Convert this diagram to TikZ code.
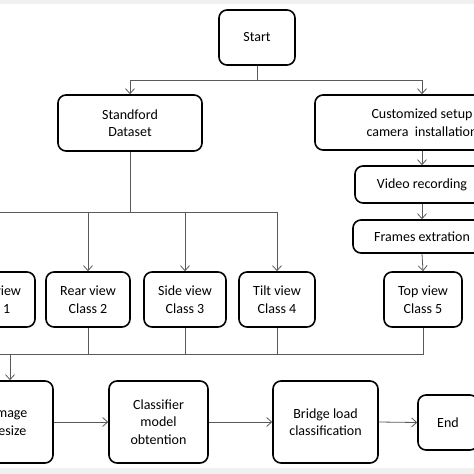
\documentclass[tikz,border=0pt]{standalone}
\usepackage{fontspec}
\setmainfont{Carlito}
\usetikzlibrary{arrows.meta,calc}
\definecolor{lnc}{HTML}{5A5A5A}
\tikzset{
  box/.style={draw=black, line width=1.6pt, rounded corners=8pt, align=center,
    font=\fontsize{14pt}{17.5pt}\selectfont, inner sep=2pt, minimum height=55pt},
  conn/.style={draw=lnc, line width=0.8pt},
  arr/.style={conn, -{Straight Barb[length=5pt,width=9pt,line width=0.8pt]}}
}
\begin{document}
\begin{tikzpicture}[x=1pt,y=-1pt]
\useasboundingbox (0,0) rectangle (474,474);
\clip (0,0) rectangle (474,474);
\fill[white] (0,0) rectangle (474,474);
\fill[gray!12] (0,0) rectangle (474,4);
\fill[gray!12] (0,468) rectangle (474,474);

\node[box, minimum width=76pt] (start) at (257,37.5) {Start};
\node[box, minimum width=144pt, minimum height=56pt] (sd) at (130,123) {Standford\\Dataset};
\node[box, minimum width=214pt] (cs) at (422,122.5) {Customized setup\\camera~ installation};
\node[box, minimum width=134pt, minimum height=37pt] (vr) at (422,184.5) {Video recording};
\node[box, minimum width=138pt, minimum height=33pt] (fe) at (422,236.5) {Frames extration};
\node[box, minimum width=88pt] (c1) at (-9,299.5) {Front view\\Class 1};
\node[box, minimum width=84pt] (c2) at (88,299.5) {Rear view\\Class 2};
\node[box, minimum width=82pt] (c3) at (185,299.5) {Side view\\Class 3};
\node[box, minimum width=76pt] (c4) at (277,299.5) {Tilt view\\Class 4};
\node[box, minimum width=78pt] (c5) at (423,299.5) {Top view\\Class 5};
\node[box, minimum width=86pt, minimum height=82pt] (ir) at (10,422) {Image\\resize};
\node[box, minimum width=99pt, minimum height=82pt] (cm) at (158.5,422) {Classifier\\model\\obtention};
\node[box, minimum width=105pt, minimum height=82pt] (bl) at (325.5,422) {Bridge load\\classification};
\node[box, minimum width=60pt] (en) at (448,422.5) {End};

% top split
\coordinate (j1) at ($(start.south)+(0,15)$);
\draw[conn] (start.south) -- (j1);
\draw[arr] (j1) -| (sd.north);
\draw[arr] (j1) -| (cs.north);

% dataset split
\coordinate (j2) at (sd.south |- 0,212);
\draw[conn] (sd.south) -- (j2);
\draw[arr] (j2) -| (c1.north);
\draw[arr] (j2) -| (c2.north);
\draw[arr] (j2) -| (c3.north);
\draw[arr] (j2) -| (c4.north);

% right column
\draw[arr] (cs.south) -- (vr.north);
\draw[arr] (vr.south) -- (fe.north);
\draw[arr] (fe.south) -- (c5.north);

% merge
\coordinate (j3) at (ir.north |- 0,354);
\draw[conn] (c1.south) |- (j3);
\draw[conn] (c2.south) |- (j3);
\draw[conn] (c3.south) |- (j3);
\draw[conn] (c4.south) |- (j3);
\draw[conn] (c5.south) |- (j3);
\draw[arr] (j3) -- (ir.north);

% bottom row
\draw[arr] (ir.east) -- (cm.west);
\draw[arr] (cm.east) -- (bl.west);
\draw[arr] (bl.east) -- (en.west);
\end{tikzpicture}
\end{document}
